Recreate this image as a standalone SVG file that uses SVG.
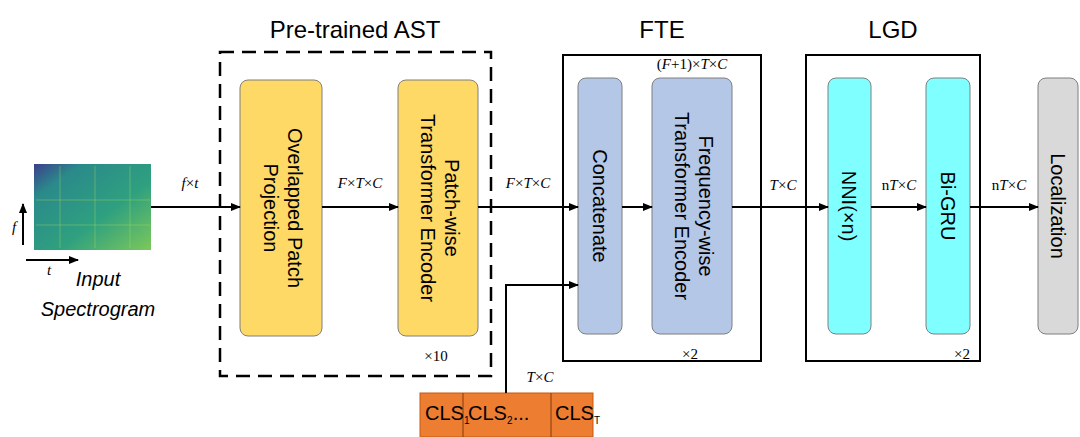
<svg xmlns="http://www.w3.org/2000/svg" width="1080" height="437" viewBox="0 0 1080 437">
<defs>
<marker id="ah" markerWidth="10" markerHeight="8" refX="9" refY="4" orient="auto" markerUnits="userSpaceOnUse"><path d="M0,0 L10,4 L0,8 z" fill="#000"/></marker>
<linearGradient id="sg" x1="0" y1="0" x2="1" y2="1"><stop offset="0" stop-color="#3b3f8c"/><stop offset="0.2" stop-color="#2a8a8a"/><stop offset="0.6" stop-color="#2fa07f"/><stop offset="1" stop-color="#7cc85a"/></linearGradient>
<style>
.lbl{font-family:"Liberation Sans",Arial,sans-serif;font-size:20px;fill:#000}
.title{font-family:"Liberation Sans",Arial,sans-serif;font-size:24px;fill:#000}
.math{font-family:"Liberation Serif","Times New Roman",serif;font-size:15px;fill:#000}
.mi{font-style:italic}
.ln{stroke:#000;stroke-width:2;fill:none}
.yel{fill:#FFD966;stroke:#7f7f7f;stroke-width:1}
.blu{fill:#B4C7E7;stroke:#7f7f7f;stroke-width:1}
.cy{fill:#7FFFFF;stroke:#7f7f7f;stroke-width:1}
.gr{fill:#D9D9D9;stroke:#7f7f7f;stroke-width:1}
</style>
</defs>
<rect width="1080" height="437" fill="#fff"/>
<text class="title" x="355" y="38" text-anchor="middle">Pre-trained AST</text>
<text class="title" x="662" y="38" text-anchor="middle">FTE</text>
<text class="title" x="893" y="38" text-anchor="middle">LGD</text>
<rect x="220" y="52" width="271" height="324" fill="none" stroke="#000" stroke-width="2.5" stroke-dasharray="14,8"/>
<rect x="563" y="55" width="198" height="306" class="ln" stroke-width="2.5"/>
<rect x="806" y="55" width="174" height="306" class="ln" stroke-width="2.5"/>
<g id="input">
<rect x="34" y="164" width="117" height="86" fill="url(#sg)"/>
<g stroke="#b8e05a" stroke-opacity="0.35" stroke-width="1"><line x1="60" y1="166" x2="60" y2="248"/><line x1="95" y1="166" x2="95" y2="248"/><line x1="130" y1="166" x2="130" y2="248"/><line x1="36" y1="200" x2="150" y2="200"/><line x1="36" y1="225" x2="150" y2="225"/></g>
<line x1="23" y1="245" x2="23" y2="204" class="ln" stroke-width="1.2" marker-end="url(#ah)"/>
<line x1="26" y1="260" x2="78" y2="260" class="ln" stroke-width="1.2" marker-end="url(#ah)"/>
<text class="math mi" x="12" y="232" font-size="18">f</text>
<text class="math mi" x="47" y="275" font-size="16">t</text>
<text class="lbl" x="98" y="286" text-anchor="middle" font-style="italic">Input</text>
<text class="lbl" x="98" y="316" text-anchor="middle" font-style="italic">Spectrogram</text>
</g>
<g id="opp"><rect x="240" y="80" width="82" height="256" rx="8" class="yel"/>
<text class="lbl" transform="translate(281,208) rotate(90)" text-anchor="middle"><tspan x="0" y="-7">Overlapped Patch</tspan><tspan x="0" y="17">Projection</tspan></text></g>
<g id="pte"><rect x="398" y="80" width="80" height="256" rx="8" class="yel"/>
<text class="lbl" transform="translate(438,208) rotate(90)" text-anchor="middle"><tspan x="0" y="-7">Patch-wise</tspan><tspan x="0" y="17">Transformer Encoder</tspan></text></g>
<g id="concat"><rect x="578" y="78" width="44" height="256" rx="8" class="blu"/>
<text class="lbl" transform="translate(600,206) rotate(90)" text-anchor="middle" y="7">Concatenate</text></g>
<g id="fte"><rect x="652" y="78" width="80" height="256" rx="8" class="blu"/>
<text class="lbl" transform="translate(692,206) rotate(90)" text-anchor="middle"><tspan x="0" y="-7">Frequency-wise</tspan><tspan x="0" y="17">Transformer Encoder</tspan></text></g>
<g id="nni"><rect x="828" y="78" width="43" height="256" rx="8" class="cy"/>
<text class="lbl" transform="translate(849,206) rotate(90)" text-anchor="middle" y="7">NNI(×n)</text></g>
<g id="bigru"><rect x="926" y="78" width="44" height="256" rx="8" class="cy"/>
<text class="lbl" transform="translate(948,206) rotate(90)" text-anchor="middle" y="7">Bi-GRU</text></g>
<g id="loc"><rect x="1038" y="78" width="40" height="256" rx="8" class="gr"/>
<text class="lbl" transform="translate(1058,206) rotate(90)" text-anchor="middle" y="7">Localization</text></g>
<g id="cls">
<rect x="420" y="393" width="173" height="44" fill="#ED7D31" stroke="#c55a11" stroke-width="1"/>
<line x1="463" y1="393" x2="463" y2="437" stroke="#843c0c" stroke-width="1"/>
<line x1="551" y1="393" x2="551" y2="437" stroke="#843c0c" stroke-width="1"/>
<text class="lbl" font-size="15" x="425" y="420">CLS<tspan font-size="10" dy="4">1</tspan></text>
<text class="lbl" font-size="15" x="468" y="420">CLS<tspan font-size="10" dy="4">2</tspan></text>
<text class="lbl" font-size="15" x="521" y="420" text-anchor="middle">...</text>
<text class="lbl" font-size="15" x="555" y="420">CLS<tspan font-size="10" dy="4">T</tspan></text>
</g>
<g id="connectors">
<line x1="151" y1="207" x2="240" y2="207" class="ln" marker-end="url(#ah)"/>
<line x1="322" y1="207" x2="398" y2="207" class="ln" marker-end="url(#ah)"/>
<line x1="478" y1="207" x2="578" y2="207" class="ln" marker-end="url(#ah)"/>
<line x1="622" y1="207" x2="652" y2="207" class="ln" marker-end="url(#ah)"/>
<line x1="732" y1="207" x2="828" y2="207" class="ln" marker-end="url(#ah)"/>
<line x1="871" y1="207" x2="926" y2="207" class="ln" marker-end="url(#ah)"/>
<line x1="970" y1="207" x2="1038" y2="207" class="ln" marker-end="url(#ah)"/>
<polyline points="506,393 506,285 578,285" class="ln" marker-end="url(#ah)"/>
</g>
<g id="labels">
<text class="math" x="190" y="188" text-anchor="middle"><tspan class="mi">f</tspan>×<tspan class="mi">t</tspan></text>
<text class="math" x="360" y="188" text-anchor="middle"><tspan class="mi">F</tspan>×<tspan class="mi">T</tspan>×<tspan class="mi">C</tspan></text>
<text class="math" x="528" y="188" text-anchor="middle"><tspan class="mi">F</tspan>×<tspan class="mi">T</tspan>×<tspan class="mi">C</tspan></text>
<text class="math" x="692" y="69" text-anchor="middle">(<tspan class="mi">F</tspan>+1)×<tspan class="mi">T</tspan>×<tspan class="mi">C</tspan></text>
<text class="math" x="783" y="190" text-anchor="middle"><tspan class="mi">T</tspan>×<tspan class="mi">C</tspan></text>
<text class="math" x="899" y="190" text-anchor="middle">n<tspan class="mi">T</tspan>×<tspan class="mi">C</tspan></text>
<text class="math" x="1009" y="190" text-anchor="middle">n<tspan class="mi">T</tspan>×<tspan class="mi">C</tspan></text>
<text class="math" x="540" y="382" text-anchor="middle"><tspan class="mi">T</tspan>×<tspan class="mi">C</tspan></text>
<text class="math" font-size="20" x="436" y="361" text-anchor="middle">×10</text>
<text class="math" font-size="20" x="690" y="359" text-anchor="middle">×2</text>
<text class="math" font-size="20" x="962" y="359" text-anchor="middle">×2</text>
</g>
</svg>
